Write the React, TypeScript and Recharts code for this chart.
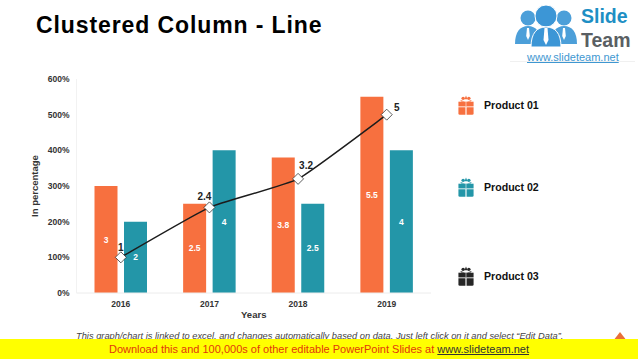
import React from "react";
import {
  ComposedChart,
  Bar,
  Line,
  XAxis,
  YAxis,
  LabelList,
  Label,
} from "recharts";

const FONT = "'Liberation Sans', Arial, sans-serif";

const years = ["2016", "2017", "2018", "2019"];
const product01 = [3, 2.5, 3.8, 5.5];
const product02 = [2, 4, 2.5, 4];
const product03 = [1, 2.4, 3.2, 5];
const yTicks = [0, 1, 2, 3, 4, 5, 6];
const productNames = ["Product 01", "Product 02", "Product 03"];
const productColors = ["#F7703F", "#2396A8", "#262626"];
const legendTops = [93, 175, 264];

const chartData = years.map((year, i) => ({
  year,
  p1: product01[i],
  p2: product02[i],
  p3: product03[i],
}));

// the line's value labels do not sit in one consistent place in the slide
const lineLabelOffsets = [
  { dx: 0, dy: -6 },
  { dx: -5, dy: -7 },
  { dx: 8, dy: -10 },
  { dx: 10, dy: -4 },
];

// powerpoint's smoothing is much flatter than any of the named curve types
const softCurve = (context: any) => {
  let pts: [number, number][] = [];
  const k = 0.07;
  return {
    areaStart() {},
    areaEnd() {},
    lineStart() {
      pts = [];
    },
    point(x: number, y: number) {
      pts.push([+x, +y]);
    },
    lineEnd() {
      pts.forEach((p, i) => {
        if (i === 0) {
          context.moveTo(p[0], p[1]);
          return;
        }
        const a = pts[i - 1];
        const before = pts[i - 2] || a;
        const after = pts[i + 1] || p;
        context.bezierCurveTo(
          a[0] + k * (p[0] - before[0]),
          a[1] + k * (p[1] - before[1]),
          p[0] - k * (after[0] - a[0]),
          p[1] - k * (after[1] - a[1]),
          p[0],
          p[1]
        );
      });
    },
  };
};

const Diamond = (props: any) => {
  const { cx, cy } = props;
  if (cx == null || cy == null) return null;
  return (
    <path
      d={`M${cx} ${cy - 5.5}L${cx + 5.5} ${cy}L${cx} ${cy + 5.5}L${cx - 5.5} ${cy}Z`}
      fill="#fff"
      stroke="#333"
      strokeWidth={0.8}
    />
  );
};

const LineValue = (props: any) => {
  const { x, y, value, index } = props;
  const off = lineLabelOffsets[index];
  return (
    <text
      x={x + off.dx}
      y={y + off.dy}
      textAnchor="middle"
      fontFamily={FONT}
      fontSize={10}
      fontWeight={700}
      fill="#222"
    >
      {value}
    </text>
  );
};

const GiftIcon = ({ color }: { color: string }) => (
  <svg width={18} height={20} viewBox="0 0 19 21" style={{ display: "block" }}>
    <circle cx={6.5} cy={3.5} r={1.8} fill={color} />
    <circle cx={12.5} cy={3.5} r={1.8} fill={color} />
    <path d="M9.5 0.5l1.6 4h-3.2z" fill={color} />
    <path d="M3.5 5.2l5 1.6h-4zM15.5 5.2l-5 1.6h4z" fill={color} />
    <path d="M1.5 7h16v5h-16z" fill={color} />
    <path d="M1.5 12.8h7.4v8h-6a1.4 1.4 0 0 1-1.4-1.4z" fill={color} />
    <path d="M10.1 12.8h7.4v6.6a1.4 1.4 0 0 1-1.4 1.4h-6z" fill={color} />
    <path d="M9 7h1v4.8H9z" fill="#fff" opacity={0.6} />
  </svg>
);

const Logo = () => (
  <div style={{ position: "absolute", left: 515, top: 0, width: 123, height: 66 }}>
    <svg width={66} height={48} style={{ position: "absolute", left: 0, top: 0 }}>
      <g fill="#4C9FD9">
        <circle cx={13} cy={18} r={7.5} />
        <circle cx={49} cy={18} r={7.5} />
        <path d="M0 44c0-12 5-18 13-18s13 6 13 18z" />
        <path d="M36 44c0-12 5-18 13-18s13 6 13 18z" />
      </g>
      <g fill="#3C96D6" stroke="#fff" strokeWidth={1}>
        <circle cx={31} cy={16} r={11} />
        <path d="M16 47c0-14 6-20 15-20s15 6 15 20z" />
      </g>
      <path d="M29.500 28h3l1 12-2.500 5-2.500-5z" fill="#fff" />
      <path d="M12 28h2l.8 8-1.800 4-1.800-4z" fill="#fff" />
      <path d="M48 28h2l.8 8-1.800 4-1.800-4z" fill="#fff" />
    </svg>
    <div style={{ position: "absolute", left: 66, top: 3, fontFamily: FONT, fontWeight: 700, fontSize: 19.5, color: "#1E8FC4", lineHeight: "26px" }}>
      Slide
    </div>
    <div style={{ position: "absolute", left: 66, top: 27, fontFamily: FONT, fontWeight: 700, fontSize: 19.5, color: "#5A5F63", lineHeight: "26px" }}>
      Team
    </div>
    <div style={{ position: "absolute", left: 12, top: 50, fontFamily: FONT, fontSize: 11, color: "#3E97D1", textDecoration: "underline", lineHeight: "15px", whiteSpace: "nowrap" }}>
      www.slideteam.net
    </div>
    <div style={{ position: "absolute", left: -5, top: 61, width: 125, height: 1, background: "#f0f0f0" }} />
  </div>
);

const App = () => {
  return (
    <div style={{ position: "absolute", left: 0, top: 0, width: 638, height: 359, overflow: "hidden", background: "#fff", fontFamily: FONT }}>
      <div style={{ position: "absolute", left: 36, top: 10, fontSize: 23, fontWeight: 700, color: "#000", letterSpacing: 0.9, lineHeight: "30px", whiteSpace: "nowrap" }}>
        Clustered Column - Line
      </div>
      <Logo />

      <ComposedChart
        width={450}
        height={330}
        data={chartData}
        margin={{ top: 79, right: 19, bottom: 12, left: 0 }}
        barGap={6.5}
        barCategoryGap={18}
        style={{ position: "absolute", left: 0, top: 0 }}
      >
        <XAxis
          dataKey="year"
          axisLine={{ stroke: "#ececec" }}
          tickLine={false}
          tick={{ fontFamily: FONT, fontSize: 8.5, fontWeight: 700, fill: "#333" }}
          tickMargin={2}
          height={25}
        >
          <Label value="Years" position="insideBottom" offset={0} style={{ fontFamily: FONT, fontSize: 9.5, fontWeight: 700, fill: "#333" }} />
        </XAxis>
        <YAxis
          domain={[0, 6]}
          ticks={yTicks}
          interval={0}
          width={76.5}
          axisLine={{ stroke: "#f2f2f2" }}
          tickLine={false}
          tickFormatter={(v: number) => `${v * 100}%`}
          tick={{ fontFamily: FONT, fontSize: 8.5, fontWeight: 700, fill: "#333" }}
          tickMargin={1}
        >
          <Label value="In percentage" angle={-90} position="insideLeft" offset={35} style={{ fontFamily: FONT, fontSize: 9.5, fontWeight: 700, fill: "#333", textAnchor: "middle" }} />
        </YAxis>
        <Bar dataKey="p1" fill={productColors[0]} barSize={23} isAnimationActive={false}>
          <LabelList dataKey="p1" position="center" style={{ fontFamily: FONT, fontSize: 8.5, fontWeight: 700, fill: "#fff" }} />
        </Bar>
        <Bar dataKey="p2" fill={productColors[1]} barSize={23} isAnimationActive={false}>
          <LabelList dataKey="p2" position="center" style={{ fontFamily: FONT, fontSize: 8.5, fontWeight: 700, fill: "#fff" }} />
        </Bar>
        <Line
          dataKey="p3"
          type={softCurve as any}
          stroke="#1c1c1c"
          strokeWidth={1.5}
          dot={<Diamond />}
          activeDot={false}
          isAnimationActive={false}
        >
          <LabelList dataKey="p3" content={<LineValue />} />
        </Line>
      </ComposedChart>

      {productNames.map((name, i) => (
        <div key={name} style={{ position: "absolute", left: 457, top: legendTops[i], display: "flex", alignItems: "center", height: 24 }}>
          <GiftIcon color={productColors[i]} />
          <span style={{ marginLeft: 9, fontSize: 10.6, fontWeight: 700, color: "#111" }}>{name}</span>
        </div>
      ))}

      <div style={{ position: "absolute", left: 76, top: 331, fontSize: 9.3, fontStyle: "italic", color: "#444", whiteSpace: "nowrap" }}>
        This graph/chart is linked to excel, and changes automatically based on data. Just left click on it and select “Edit Data”.
      </div>
      <svg width={16} height={10} style={{ position: "absolute", left: 612, top: 332 }}>
        <path d="M8 0L15 9H1Z" fill="#E8703A" />
      </svg>
      <div style={{ position: "absolute", left: 0, top: 339, width: 638, height: 20, background: "#FFFF00", textAlign: "center", fontSize: 11, lineHeight: "20px", color: "#E2380B", whiteSpace: "nowrap" }}>
        Download this and 100,000s of other editable PowerPoint Slides at{" "}
        <span style={{ color: "#333", textDecoration: "underline" }}>www.slideteam.net</span>
      </div>
    </div>
  );
};

export default App;
